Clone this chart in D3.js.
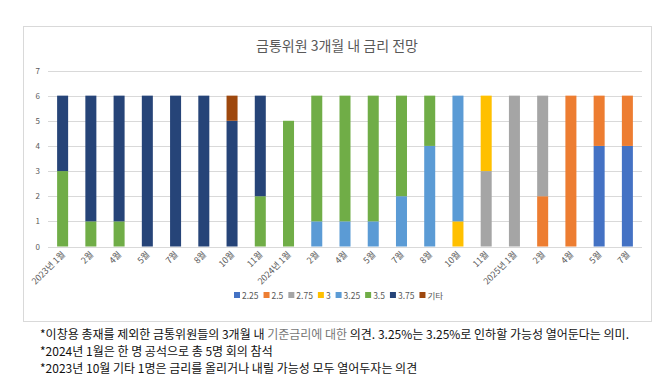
<!DOCTYPE html>
<html><head><meta charset="utf-8">
<script src="https://cdn.jsdelivr.net/npm/d3@7"></script>
<style>body{margin:0;background:#fff;}svg{display:block;font-family:"Noto Sans CJK KR","Noto Sans",sans-serif;}</style>
</head><body><svg id="c" width="670" height="385"></svg>
<script>
const categories = ["2023년 1월","2월","4월","5월","7월","8월","10월","11월","2024년 1월","2월","4월","5월","7월","8월","10월","11월","2025년 1월","2월","4월","5월","7월"];
const seriesNames = ["2.25","2.5","2.75","3","3.25","3.5","3.75","기타"];
const s225 = [0,0,0,0,0,0,0,0,0,0,0,0,0,0,0,0,0,0,0,4,4];
const s250 = [0,0,0,0,0,0,0,0,0,0,0,0,0,0,0,0,0,2,6,2,2];
const s275 = [0,0,0,0,0,0,0,0,0,0,0,0,0,0,0,3,6,4,0,0,0];
const s300 = [0,0,0,0,0,0,0,0,0,0,0,0,0,0,1,3,0,0,0,0,0];
const s325 = [0,0,0,0,0,0,0,0,0,1,1,1,2,4,5,0,0,0,0,0,0];
const s350 = [3,1,1,0,0,0,0,2,5,5,5,5,4,2,0,0,0,0,0,0,0];
const s375 = [3,5,5,6,6,6,5,4,0,0,0,0,0,0,0,0,0,0,0,0,0];
const sEtc = [0,0,0,0,0,0,1,0,0,0,0,0,0,0,0,0,0,0,0,0,0];
const yTicks = [0,1,2,3,4,5,6,7];
const colors = ["#4472C4","#ED7D31","#A5A5A5","#FFC000","#5B9BD5","#70AD47","#264478","#9E480E"];
const title = "금통위원 3개월 내 금리 전망";

const seriesVals = [s225,s250,s275,s300,s325,s350,s375,sEtc];
const rows = categories.map((c,i)=>{const o={idx:i,cat:c};seriesNames.forEach((n,k)=>o[n]=seriesVals[k][i]);return o;});
const stack = d3.stack().keys(seriesNames)(rows);

const svg = d3.select("#c");
svg.append("rect").attr("x",23.5).attr("y",26.5).attr("width",628).attr("height",295).attr("fill","#fff").attr("stroke","#d9d9d9");
svg.append("text").attr("x",337).attr("y",51).attr("text-anchor","middle").attr("font-size",14).attr("fill","#595959").text(title);

const x = d3.scaleBand().domain(d3.range(categories.length)).range([48.5,641.5]).paddingInner(0.61).paddingOuter(0.305);
const y = d3.scaleLinear().domain([0,7]).range([246.5,70.5]);

const g = svg.append("g");
g.selectAll(".grid").data(yTicks).join("line").attr("x1",48).attr("x2",642)
 .attr("y1",d=>Math.round(y(d))+0.5).attr("y2",d=>Math.round(y(d))+0.5).attr("stroke","#d9d9d9");
g.selectAll(".yl").data(yTicks).join("text").attr("x",40).attr("y",d=>y(d)+3).attr("text-anchor","end")
 .attr("font-size",8).attr("fill","#595959").text(d=>d);

stack.forEach((layer,k)=>{
  g.selectAll(".b"+k).data(layer).join("rect")
   .attr("x",d=>x(d.data.idx)).attr("width",x.bandwidth())
   .attr("y",d=>y(d[1])).attr("height",d=>y(d[0])-y(d[1]))
   .attr("fill",colors[k]);
});

g.selectAll(".xl").data(categories).join("text")
 .attr("transform",(d,i)=>`translate(${x(i)+x.bandwidth()/2+3},${255}) rotate(-45)`)
 .attr("text-anchor","end").attr("font-size",8.8).attr("fill","#595959").text(d=>d);

// legend
const lg = svg.append("g");
let lx = 234;
const ly = 297;
seriesNames.forEach((n,k)=>{
  lg.append("rect").attr("x",lx).attr("y",ly-5).attr("width",6).attr("height",6).attr("fill",colors[k]);
  const t = lg.append("text").attr("x",lx+8).attr("y",ly+1.5).attr("font-size",8.5).attr("fill","#595959").text(n);
  lx += 8 + t.node().getComputedTextLength() + 5;
});

const notes = svg.append("g").attr("font-size",12).attr("fill","#111");
const n1 = notes.append("text").attr("x",40).attr("y",339);
n1.append("tspan").text("*이창용 총재를 제외한 금통위원들의 3개월 내 ");
n1.append("tspan").attr("fill","#777").text("기준금리에 대한");
n1.append("tspan").text(" 의견. 3.25%는 3.25%로 인하할 가능성 열어둔다는 의미.");
notes.append("text").attr("x",40).attr("y",356).text("*2024년 1월은 한 명 공석으로 총 5명 회의 참석");
notes.append("text").attr("x",40).attr("y",373).text("*2023년 10월 기타 1명은 금리를 올리거나 내릴 가능성 모두 열어두자는 의견");
</script></body></html>
